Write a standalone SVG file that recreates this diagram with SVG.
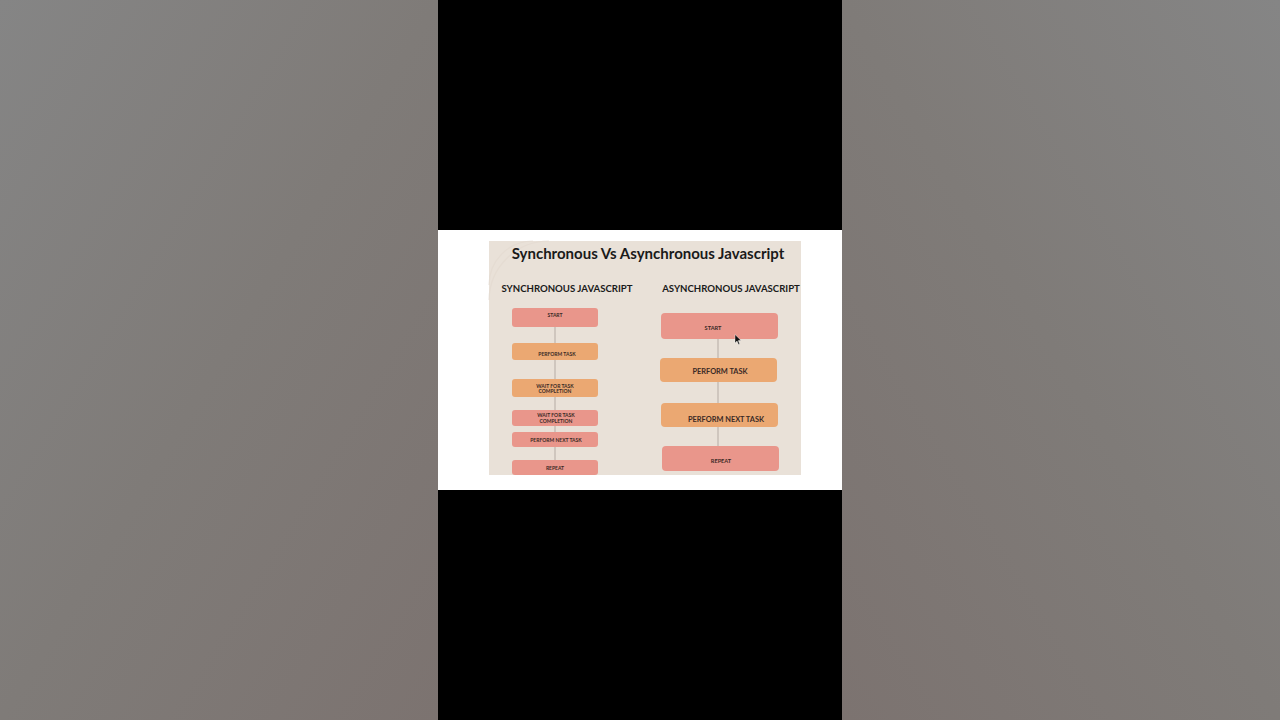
<svg xmlns="http://www.w3.org/2000/svg" width="1280" height="720" viewBox="0 0 1280 720">
<defs>
<linearGradient id="bgL" x1="0" y1="0" x2="1" y2="1">
<stop offset="0" stop-color="#858585"/>
<stop offset="0.5" stop-color="#7f7b78"/>
<stop offset="1" stop-color="#7c7370"/>
</linearGradient>
<linearGradient id="bgR" x1="1" y1="0" x2="0" y2="1">
<stop offset="0" stop-color="#858585"/>
<stop offset="0.5" stop-color="#7f7b78"/>
<stop offset="1" stop-color="#7c7370"/>
</linearGradient>
<style>
.pink{fill:#e9968b;}
.orange{fill:#eba872;}
.t{font-family:Lato,"Liberation Sans",sans-serif;font-weight:bold;fill:#3a2a26;text-anchor:middle;}
.s{font-size:5px;}
.m{font-size:7.4px;}
.h{font-family:Lato,"Liberation Sans",sans-serif;font-weight:bold;font-size:9.6px;fill:#1a1a1a;text-anchor:middle;}
.c{stroke:#a09590;stroke-width:0.7;fill:none;}
</style>
</defs>
<rect x="0" y="0" width="438" height="720" fill="url(#bgL)"/>
<rect x="842" y="0" width="438" height="720" fill="url(#bgR)"/>
<rect x="438" y="0" width="404" height="720" fill="#000"/>
<rect x="438" y="230" width="404" height="260" fill="#fff"/>
<rect x="489" y="241" width="312" height="234" fill="#e9e1d8"/>
<g fill="none" stroke="#e3d9cf" stroke-width="1.2" opacity="0.6">
<path d="M489 300 A60 60 0 0 1 549 241"/>
<path d="M489 285 A44 44 0 0 1 533 241"/>
</g>
<text class="h" x="648" y="259" style="font-size:15px">Synchronous Vs Asynchronous Javascript</text>
<text class="h" x="567" y="292">SYNCHRONOUS JAVASCRIPT</text>
<text class="h" x="731" y="292">ASYNCHRONOUS JAVASCRIPT</text>
<g id="connectors">
<line class="c" x1="555" y1="327" x2="555" y2="343"/>
<line class="c" x1="555" y1="360" x2="555" y2="379"/>
<line class="c" x1="555" y1="397" x2="555" y2="410"/>
<line class="c" x1="555" y1="426" x2="555" y2="432"/>
<line class="c" x1="555" y1="447" x2="555" y2="460"/>
<line class="c" x1="718" y1="339" x2="718" y2="358"/>
<line class="c" x1="718" y1="382" x2="718" y2="403"/>
<line class="c" x1="718" y1="427" x2="718" y2="446"/>
</g>
<g id="s-start"><rect class="pink" x="512" y="308" width="86" height="19" rx="3"/><text class="t s" x="555" y="317">START</text></g>
<g id="s-perform"><rect class="orange" x="512" y="343" width="86" height="17" rx="3"/><text class="t s" x="557" y="355.5">PERFORM TASK</text></g>
<g id="s-wait1"><rect class="orange" x="512" y="379" width="86" height="18" rx="3"/><text class="t s" x="555" y="387.5">WAIT FOR TASK</text><text class="t s" x="555" y="393">COMPLETION</text></g>
<g id="s-wait2"><rect class="pink" x="512" y="410" width="86" height="16" rx="3"/><text class="t s" x="556" y="417">WAIT FOR TASK</text><text class="t s" x="556" y="422.5">COMPLETION</text></g>
<g id="s-next"><rect class="pink" x="512" y="432" width="86" height="15" rx="3"/><text class="t s" x="556" y="442">PERFORM NEXT TASK</text></g>
<g id="s-repeat"><rect class="pink" x="512" y="460" width="86" height="15" rx="3"/><text class="t s" x="555" y="469.5">REPEAT</text></g>
<g id="a-start"><rect class="pink" x="661" y="313" width="117" height="26" rx="4"/><text class="t" x="713" y="330" style="font-size:5.6px">START</text></g>
<g id="a-perform"><rect class="orange" x="660" y="358" width="117" height="24" rx="4"/><text class="t m" x="720" y="374">PERFORM TASK</text></g>
<g id="a-next"><rect class="orange" x="661" y="403" width="117" height="24" rx="4"/><text class="t m" x="726" y="422">PERFORM NEXT TASK</text></g>
<g id="a-repeat"><rect class="pink" x="662" y="446" width="117" height="25" rx="4"/><text class="t" x="721" y="462.5" style="font-size:5.6px">REPEAT</text></g>
<path d="M735 334.5 L735 343 L737 341 L738.5 344.5 L739.7 344 L738.3 340.6 L741 340.4 Z" fill="#111" stroke="#fff" stroke-width="0.4"/>
</svg>
